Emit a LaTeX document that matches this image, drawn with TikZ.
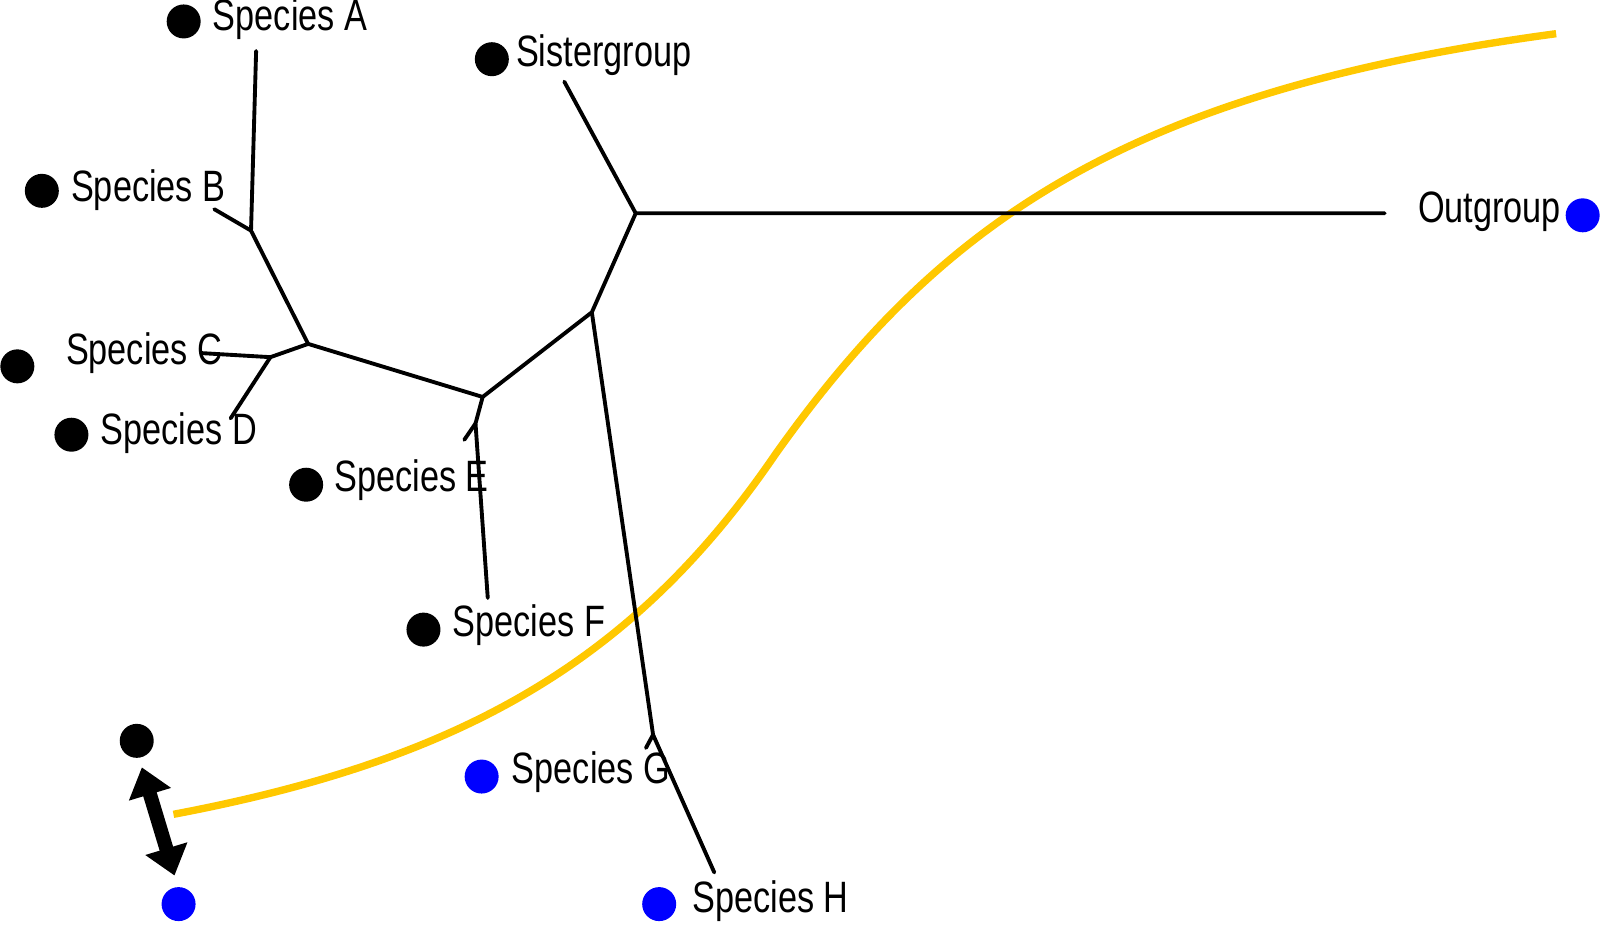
\documentclass[tikz,border=0pt]{standalone}
\usepackage{fontspec}
\setmainfont[FakeStretch=0.78]{Liberation Sans}
\usetikzlibrary{arrows.meta}
\begin{document}
\begin{tikzpicture}[x=0.010204cm,y=-0.010204cm,
  br/.style={line width=1.1pt,line cap=round,line join=round},
  bdot/.style={circle,fill=black,minimum size=34\pgflinewidth,inner sep=0pt},
  dotb/.style={circle,fill=black,inner sep=0pt,minimum size=0.34cm},
  dotu/.style={circle,fill=blue,inner sep=0pt,minimum size=0.34cm},
  lab/.style={font=\fontsize{12.5pt}{14pt}\selectfont,anchor=west,inner sep=0pt}]
\useasboundingbox (0,0) rectangle (1568,906.5);
% yellow curve
\coordinate (ys) at (170,798);
\coordinate (ym) at (760,445);
\coordinate (ye) at (1525,33);
\draw[line width=2.1pt,color={rgb,255:red,255;green,200;blue,0}] (ys) .. controls (450,745) and (620,650) .. (ym) .. controls (920,220) and (1100,90) .. (ye);
% tree
\coordinate (jA) at (246,226);
\coordinate (jB) at (302,337);
\coordinate (jCD) at (265,350);
\coordinate (jE) at (473,389);
\coordinate (jEF) at (466,415);
\coordinate (jG) at (580,306);
\coordinate (jR) at (623,209);
\coordinate (jGH) at (640,720);
\coordinate (eA) at (251,50);
\coordinate (eB) at (210,205);
\coordinate (eC) at (197,346);
\coordinate (eD) at (226,410);
\coordinate (eE) at (455,431);
\coordinate (eF) at (478,586);
\coordinate (eS) at (553,80);
\coordinate (eO) at (1357,209);
\coordinate (eG) at (633,733);
\coordinate (eH) at (700,855);
\draw[br] (eA)--(jA)--(jB)--(jE)--(jG)--(jR)--(eO);
\draw[br] (eB)--(jA);
\draw[br] (jB)--(jCD)--(eC);
\draw[br] (jCD)--(eD);
\draw[br] (jE)--(jEF)--(eF);
\draw[br] (jEF)--(eE);
\draw[br] (jR)--(eS);
\draw[br] (jG)--(jGH)--(eH);
\draw[br] (jGH)--(eG);
% dots
\node[dotb] (dA) at (180,21) {};
\node[dotb] (dS) at (482,58) {};
\node[dotb] (dB) at (41,187) {};
\node[dotb] (dC) at (17,359) {};
\node[dotb] (dD) at (70,426) {};
\node[dotb] (dE) at (300,475) {};
\node[dotb] (dF) at (415,617) {};
\node[dotu] (dG) at (472,761) {};
\node[dotu] (dH) at (646,886) {};
\node[dotu] (dO) at (1551,211) {};
\node[dotb] (dX) at (134,726) {};
\node[dotu] (dY) at (175,886) {};
% labels
\node[lab] (lA) at (208,19) {Species A};
\node[lab] (lS) at (505,54) {Sistergroup};
\node[lab] (lB) at (69,186) {Species B};
\node[lab] (lC) at (64,346) {Species C};
\node[lab] (lD) at (98,424) {Species D};
\node[lab] (lE) at (327,471) {Species E};
\node[lab] (lF) at (443,613) {Species F};
\node[lab] (lG) at (501,757) {Species G};
\node[lab] (lH) at (678,883) {Species H};
\node[lab] (lO) at (1389,207) {Outgroup};
% double arrow
\coordinate (a1) at (139,752);
\coordinate (a2) at (171,858);
\draw[line width=4pt,{Triangle[length=8pt,width=12pt]}-{Triangle[length=8pt,width=12pt]}] (a1)--(a2);
\end{tikzpicture}
\end{document}
